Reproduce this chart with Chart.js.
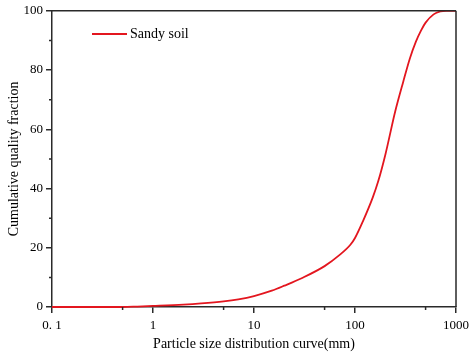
<!DOCTYPE html>
<html>
<head>
<meta charset="utf-8">
<script src="https://cdn.jsdelivr.net/npm/chart.js@4/dist/chart.umd.min.js"></script>
<style>
  html, body { margin: 0; padding: 0; background: #fff; }
  #wrap { width: 474px; height: 356px; }
</style>
</head>
<body>
<div id="wrap"><canvas id="c" width="474" height="356"></canvas></div>
<script>
// Particle size (mm) and cumulative fraction (%)
const particleSizes = [0.1, 0.2, 0.5, 0.7, 1, 2, 3, 5, 7, 10, 15, 20, 30, 50, 70, 90, 100, 120, 150, 170, 200, 250, 300, 350, 400, 450, 500, 600, 700, 800, 1000];
const cumulativeFraction = [0, 0, 0, 0.15, 0.35, 0.8, 1.2, 1.9, 2.6, 3.7, 5.5, 7.2, 9.8, 13.8, 17.5, 21, 23.3, 29, 37, 42.5, 51.5, 66, 76, 84, 89.5, 93.3, 96, 98.8, 99.8, 100, 100];
const seriesName = 'Sandy soil';
const xTickValues = [0.1, 1, 10, 100, 1000];
const xTickLabels = ['0. 1', '1', '10', '100', '1000'];
const xMinorTicks = [0.5, 5, 50, 500];
const yMinorTicks = [10, 30, 50, 70, 90];

const FONT = "'Liberation Serif', 'Times New Roman', serif";
const AXIS = '#2a2a2a';
const RED = '#e3161f';
const TEXT = '#000000';

const framePlugin = {
  id: 'frame',
  afterDraw(chart) {
    const {ctx, chartArea: a, scales: {x, y}} = chart;
    ctx.save();
    ctx.strokeStyle = AXIS;
    ctx.lineWidth = 1.5;
    ctx.beginPath();
    ctx.moveTo(a.left, a.top); ctx.lineTo(a.right, a.top);
    ctx.moveTo(a.right, a.top); ctx.lineTo(a.right, a.bottom);
    // minor ticks
    xMinorTicks.forEach(v => {
      const px = x.getPixelForValue(v);
      ctx.moveTo(px, a.bottom); ctx.lineTo(px, a.bottom + 3);
    });
    yMinorTicks.forEach(v => {
      const py = y.getPixelForValue(v);
      ctx.moveTo(a.left, py); ctx.lineTo(a.left - 3, py);
    });
    ctx.stroke();
    // legend
    const ly = 34;
    ctx.strokeStyle = RED;
    ctx.lineWidth = 1.8;
    ctx.beginPath();
    ctx.moveTo(92, ly); ctx.lineTo(127, ly);
    ctx.stroke();
    ctx.fillStyle = TEXT;
    ctx.font = '14px ' + FONT;
    ctx.textBaseline = 'middle';
    ctx.textAlign = 'left';
    ctx.fillText(seriesName, 130, ly);
    ctx.restore();
  }
};

new Chart(document.getElementById('c'), {
  type: 'scatter',
  data: {
    datasets: [{
      label: seriesName,
      data: particleSizes.map((v, i) => ({x: v, y: cumulativeFraction[i]})),
      showLine: true,
      borderColor: RED,
      borderWidth: 1.8,
      pointRadius: 0,
      cubicInterpolationMode: 'monotone',
      clip: 3
    }]
  },
  options: {
    responsive: false,
    animation: false,
    layout: { padding: { top: 8, right: 16, left: 0, bottom: 0 } },
    plugins: { legend: { display: false }, tooltip: { enabled: false } },
    scales: {
      x: {
        type: 'logarithmic',
        min: 0.1, max: 1000,
        afterBuildTicks(scale) { scale.ticks = xTickValues.map(v => ({value: v, major: true})); },
        afterFit(scale) { scale.height = 49; },
        ticks: {
          autoSkip: false, maxRotation: 0, padding: 5,
          color: TEXT, font: { family: FONT, size: 13 },
          callback(v) { const i = xTickValues.indexOf(v); return i >= 0 ? xTickLabels[i] : ''; }
        },
        grid: { display: true, drawOnChartArea: false, drawTicks: true, tickLength: 6, color: AXIS, lineWidth: 1.5 },
        border: { display: true, color: AXIS, width: 1.5 },
        title: { display: true, text: 'Particle size distribution curve(mm)', color: TEXT, font: { family: FONT, size: 14 }, padding: { top: 0, bottom: 3 } }
      },
      y: {
        type: 'linear',
        min: 0, max: 100,
        afterFit(scale) { scale.width = 52; },
        ticks: { stepSize: 20, padding: 3, color: TEXT, font: { family: FONT, size: 13 } },
        grid: { display: true, drawOnChartArea: false, drawTicks: true, tickLength: 6, color: AXIS, lineWidth: 1.5 },
        border: { display: true, color: AXIS, width: 1.5 },
        title: { display: true, text: 'Cumulative quality fraction', color: TEXT, font: { family: FONT, size: 14 }, padding: { top: 6, bottom: 0 } }
      }
    }
  },
  plugins: [framePlugin]
});
</script>
</body>
</html>
